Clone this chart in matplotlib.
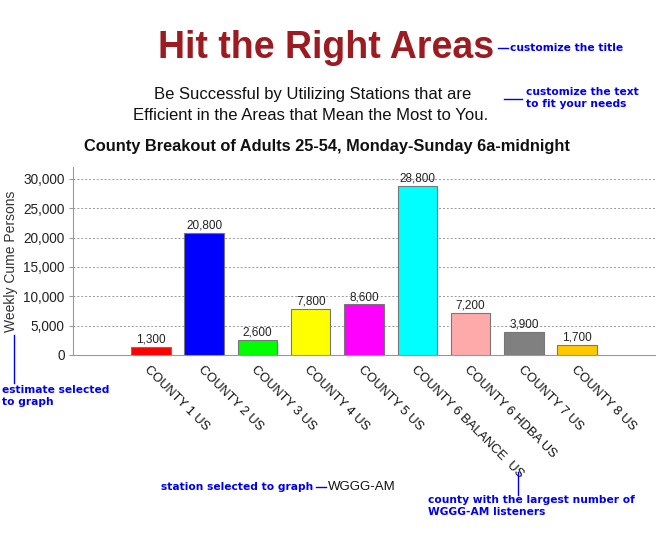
import matplotlib
matplotlib.use('Agg')
import matplotlib.pyplot as plt

counties = ["COUNTY 1 US", "COUNTY 2 US", "COUNTY 3 US", "COUNTY 4 US", "COUNTY 5 US",
            "COUNTY 6 BALANCE  US", "COUNTY 6 HDBA US", "COUNTY 7 US", "COUNTY 8 US"]
cume = [1300, 20800, 2600, 7800, 8600, 28800, 7200, 3900, 1700]
bar_colors = ["#ff0000", "#0000ff", "#00ff00", "#ffff00", "#ff00ff",
              "#00ffff", "#ffaaaa", "#808080", "#ffc800"]
yticks = [0, 5000, 10000, 15000, 20000, 25000, 30000]

W, H = 662, 534
fig = plt.figure(figsize=(W / 100, H / 100), dpi=100)
plt.rcParams['font.family'] = ['Liberation Sans', 'DejaVu Sans']


def fx(px):
    return px / W


def fy(py):
    return 1 - py / H


ax = fig.add_axes([fx(73), fy(355), fx(655) - fx(73), fy(167) - fy(355)])
pos = list(range(len(counties)))
ax.bar(pos, cume, width=0.74, color=bar_colors, edgecolor="#777777", linewidth=0.8, zorder=3)
for x, v in zip(pos, cume):
    ax.text(x, v + 250, f"{v:,}", ha="center", va="bottom", fontsize=8.5, color="#222222")

ax.set_xlim(-1.46, len(counties) - 1 + 1.46)
ax.set_ylim(0, 32000)
ax.set_yticks(yticks)
ax.set_yticklabels([f"{t:,}" for t in yticks], fontsize=9.8, color="#222222")
ax.yaxis.grid(True, linestyle=(0, (2, 2)), color="#999999", linewidth=0.7, zorder=0)
ax.set_xticks(pos)
ax.set_xticklabels(counties, rotation=-45, ha="left", va="top", rotation_mode="anchor",
                   fontsize=9.3, color="#111111")
ax.tick_params(axis="x", length=0, pad=6)
ax.tick_params(axis="y", length=3, color="#999999", pad=3)
for s in ["top", "right"]:
    ax.spines[s].set_visible(False)
for s in ["left", "bottom"]:
    ax.spines[s].set_color("#999999")
ax.set_ylabel("Weekly Cume Persons", fontsize=10, color="#333333", labelpad=4)

# headings
fig.text(fx(326), fy(48), "Hit the Right Areas", ha="center", va="center",
         fontsize=27, fontweight="bold", color="#9b1b20")
fig.text(fx(313), fy(95), "Be Successful by Utilizing Stations that are", ha="center",
         va="center", fontsize=12, color="#111111")
fig.text(fx(311), fy(116), "Efficient in the Areas that Mean the Most to You.", ha="center",
         va="center", fontsize=12, color="#111111")
fig.text(fx(327), fy(147), "County Breakout of Adults 25-54, Monday-Sunday 6a-midnight",
         ha="center", va="center", fontsize=11.8, fontweight="bold", color="#111111")

# blue notes
blue = "#0000ee"
note = dict(fontsize=7.7, fontweight="bold", color=blue, family="DejaVu Sans",
            linespacing=1.3)
fig.text(fx(510), fy(48), "customize the title", ha="left", va="center", **note)
fig.add_artist(plt.Line2D([fx(498), fx(508)], [fy(48), fy(48)], color=blue, lw=1))
fig.text(fx(526), fy(98), "customize the text\nto fit your needs", ha="left", va="center", **note)
fig.add_artist(plt.Line2D([fx(504), fx(522)], [fy(99), fy(99)], color=blue, lw=1))
fig.text(fx(2), fy(396), "estimate selected\nto graph", ha="left", va="center", **note)
fig.add_artist(plt.Line2D([fx(14), fx(14)], [fy(335), fy(383)], color=blue, lw=1))
fig.text(fx(161), fy(487), "station selected to graph", ha="left", va="center", **note)
fig.add_artist(plt.Line2D([fx(316), fx(326)], [fy(487), fy(487)], color=blue, lw=1))
fig.text(fx(328), fy(487), "WGGG-AM", ha="left", va="center", fontsize=9.5, color="#111111")
fig.text(fx(428), fy(506), "county with the largest number of\nWGGG-AM listeners", ha="left",
         va="center", **note)
fig.add_artist(plt.Line2D([fx(518), fx(518)], [fy(472), fy(495)], color=blue, lw=1))

fig.savefig("out.png", dpi=100)
